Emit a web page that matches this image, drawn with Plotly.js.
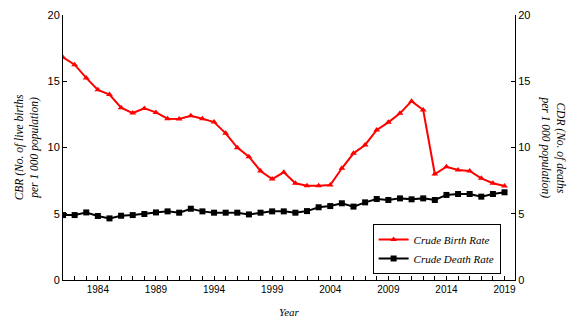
<!DOCTYPE html>
<html>
<head>
<meta charset="utf-8">
<script src="https://cdn.plot.ly/plotly-3.0.1.min.js"></script>
<style>
  body { margin: 0; background: #fff; }
  #plot { width: 579px; height: 333px; }
</style>
</head>
<body>
<div id="plot"></div>
<script>
// Years 1981 - 2019
var years = [];
for (var y = 1981; y <= 2019; y++) years.push(y);

var birthRate = [
  16.8, 16.25, 15.25, 14.35, 14.0, 13.0, 12.6, 12.95, 12.65, 12.17,
  12.15, 12.4, 12.17, 11.92, 11.07, 9.99, 9.31, 8.23, 7.62, 8.13,
  7.3, 7.12, 7.12, 7.17, 8.43, 9.56, 10.19, 11.32, 11.9, 12.58,
  13.5, 12.83, 8.0, 8.55, 8.3, 8.23, 7.67, 7.3, 7.1
];

var deathRate = [
  4.9, 4.9, 5.1, 4.83, 4.65, 4.85, 4.9, 4.98, 5.1, 5.18,
  5.08, 5.38, 5.18, 5.08, 5.08, 5.08, 4.95, 5.08, 5.18, 5.18,
  5.08, 5.2, 5.49, 5.58, 5.79, 5.54, 5.86, 6.11, 6.04, 6.16,
  6.09, 6.16, 6.04, 6.42, 6.49, 6.49, 6.29, 6.49, 6.62
];

var xTickVals = [1984, 1989, 1994, 1999, 2004, 2009, 2014, 2019];
var yTickVals = [0, 5, 10, 15, 20];

var serif = 'Liberation Serif, Times New Roman, serif';
var sans = 'Liberation Sans, Arial, sans-serif';

var traces = [
  {
    x: years,
    y: birthRate,
    type: 'scatter',
    mode: 'lines+markers',
    name: 'Crude Birth Rate',
    line: { width: 2, color: '#ff0000' },
    marker: { symbol: 'triangle-up', size: 6, color: '#ff0000' }
  },
  {
    x: years,
    y: deathRate,
    type: 'scatter',
    mode: 'lines+markers',
    name: 'Crude Death Rate',
    yaxis: 'y2',
    line: { width: 2, color: '#000000' },
    marker: { symbol: 'square', size: 6, color: '#000000' }
  }
];

var layout = {
  width: 579,
  height: 333,
  paper_bgcolor: '#ffffff',
  plot_bgcolor: '#ffffff',
  font: { family: sans, size: 10, color: '#000' },
  margin: { t: 15, l: 63, r: 64, b: 53 },
  showlegend: true,
  xaxis: {
    range: [1981, 2019.9],
    tickvals: xTickVals,
    ticks: 'inside',
    ticklen: 4,
    tickcolor: '#000',
    showgrid: false,
    zeroline: false,
    showline: true,
    linecolor: '#000',
    linewidth: 1,
    tickfont: { family: sans, size: 10 },
    minor: { dtick: 1, tick0: 1981, ticks: 'inside', ticklen: 4, tickcolor: '#000', showgrid: false },
    title: { text: '<i>Year</i>', font: { family: serif, size: 11 }, standoff: 14 }
  },
  yaxis: {
    range: [0, 20],
    tickvals: yTickVals,
    ticks: 'inside',
    ticklen: 4,
    tickcolor: '#000',
    showgrid: false,
    zeroline: false,
    showline: true,
    linecolor: '#000',
    linewidth: 1,
    tickfont: { family: sans, size: 11 },
    title: {
      text: '<i>CBR (No. of live births<br>per 1 000 population)</i>',
      font: { family: serif, size: 11.5 },
      standoff: 6
    }
  },
  yaxis2: {
    range: [0, 20],
    overlaying: 'y',
    side: 'right',
    tickvals: yTickVals,
    ticks: 'inside',
    ticklen: 4,
    tickcolor: '#000',
    showgrid: false,
    zeroline: false,
    showline: true,
    linecolor: '#000',
    linewidth: 1,
    tickfont: { family: sans, size: 11 }
  },
  annotations: [
    {
      text: '<i>CDR (No. of deaths<br>per 1 000 population)</i>',
      xref: 'paper', yref: 'paper',
      x: 1.0, y: 0.5,
      xshift: 38,
      xanchor: 'center', yanchor: 'middle',
      textangle: 90,
      showarrow: false,
      font: { family: serif, size: 11.5, color: '#000' }
    }
  ],
  legend: {
    x: 0.685, y: 0.211,
    xanchor: 'left', yanchor: 'top',
    bgcolor: '#ffffff',
    bordercolor: '#000',
    borderwidth: 1,
    font: { family: serif, size: 11, style: 'italic' },
    tracegroupgap: 0,
    itemwidth: 30
  }
};

Plotly.newPlot('plot', traces, layout, { displayModeBar: false, staticPlot: true });
</script>
</body>
</html>
